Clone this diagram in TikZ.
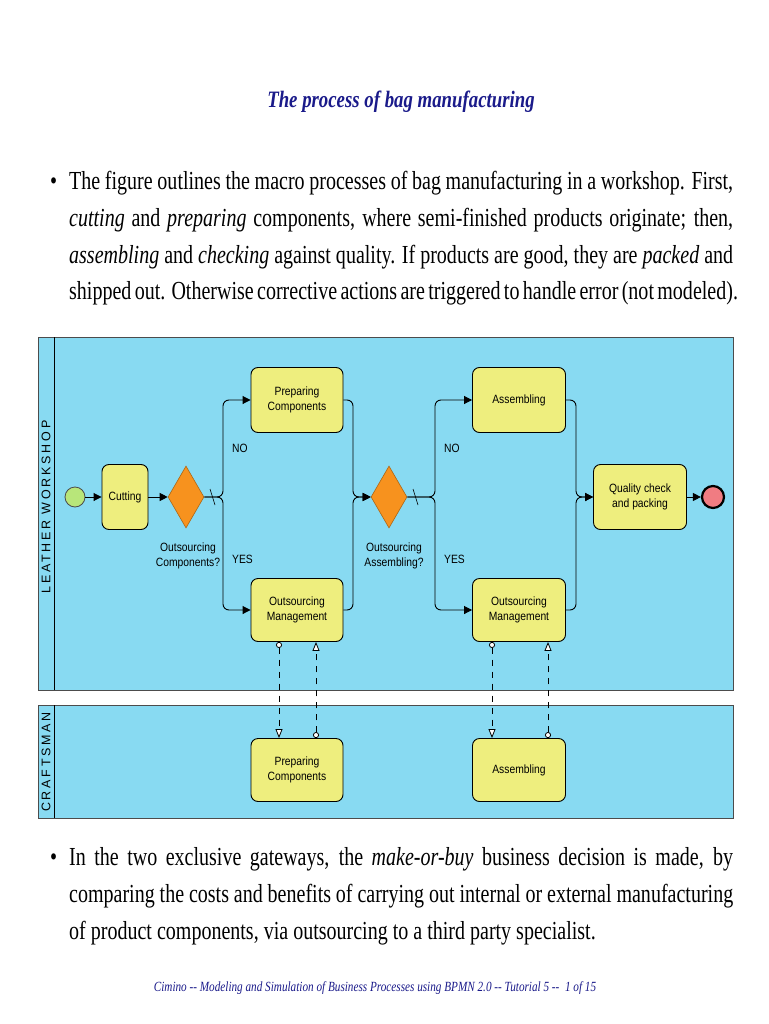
\documentclass[tikz,border=0pt]{standalone}
\usepackage{fontspec}
\setmainfont{Liberation Serif}[FakeStretch=0.77]
\newfontfamily\titlefont{Liberation Serif}[FakeStretch=0.80]
\newfontfamily\dsans{Liberation Sans}[FakeStretch=0.86]
\newfontfamily\lanefont{Liberation Sans}[LetterSpace=22]
\usetikzlibrary{arrows.meta,shapes.geometric}
\definecolor{pool}{HTML}{88DAF2}
\definecolor{taskc}{HTML}{EEEE7E}
\definecolor{gatec}{HTML}{F7921E}
\definecolor{startc}{HTML}{B8E67A}
\definecolor{endc}{HTML}{F07C82}
\definecolor{titleb}{HTML}{1A1A8A}
\tikzset{
  task/.style={draw=black,fill=taskc,rounded corners=7pt,line width=0.9pt,font=\dsans\fontsize{12}{15}\selectfont,align=center,inner sep=0pt},
  gate/.style={draw=gatec!70!black,fill=gatec,diamond,minimum width=36pt,minimum height=62pt,inner sep=0pt,line width=0.6pt},
  flow/.style={line width=0.9pt,rounded corners=6pt,-{Triangle[length=8pt,width=8pt]}},
  msg/.style={line width=0.8pt,dashed,dash pattern=on 6pt off 6pt,{Circle[open,fill=white,length=6pt,width=6pt]}-{Triangle[open,fill=white,length=9pt,width=7pt]}},
  lbl/.style={font=\dsans\fontsize{12}{15}\selectfont,align=center,inner sep=0pt},
  lane/.style={draw=black!70,fill=pool,line width=0.8pt},
  bline/.style={anchor=base west,inner sep=0pt,font=\fontsize{26}{30}\selectfont},
}
\newcommand{\fullline}[1]{\makebox[664pt][s]{#1}}
\begin{document}
\begin{tikzpicture}[x=1pt,y=-1pt]
\useasboundingbox (0,0) rectangle (768,1024);
\fill[white] (0,0) rectangle (768,1024);
% title and text
\node[font=\titlefont\bfseries\itshape\fontsize{23.5}{28}\selectfont,text=titleb] (title) at (401,102) {The process of bag manufacturing};
\node[bline] (b1) at (50,190) {\textbullet};
\node[bline] (t1a) at (69,190) {\fullline{The figure outlines the macro processes of bag manufacturing in a workshop. First,}};
\node[bline] (t1b) at (69,226) {\fullline{\emph{cutting} and \emph{preparing} components, where semi-finished products originate; then,}};
\node[bline] (t1c) at (69,263) {\fullline{\emph{assembling} and \emph{checking} against quality. If products are good, they are \emph{packed} and}};
\node[bline] (t1d) at (69,299) {\fullline{shipped out. Otherwise corrective actions are triggered to handle error (not modeled).}};
\node[bline] (b2) at (50,865) {\textbullet};
\node[bline] (t2a) at (69,865) {\fullline{In the two exclusive gateways, the \emph{make-or-buy} business decision is made, by}};
\node[bline] (t2b) at (69,902) {\fullline{comparing the costs and benefits of carrying out internal or external manufacturing}};
\node[bline] (t2c) at (69,939) {of product components, via outsourcing to a third party specialist.};
\node[font=\titlefont\itshape\fontsize{14}{17}\selectfont,text=titleb] (foot) at (375,988) {Cimino -- Modeling and Simulation of Business Processes using BPMN 2.0 -- Tutorial 5 --\ \ 1 of 15};
% pools
\draw[lane] (38,337) rectangle (733,690);
\draw[line width=0.8pt] (54,337) -- (54,690);
\draw[lane] (38,705) rectangle (733,818);
\draw[line width=0.8pt] (54,705) -- (54,818);
\node[rotate=90,font=\lanefont\fontsize{12.5}{14}\selectfont,inner sep=0pt] (l1) at (46,507) {LEATHER WORKSHOP};
\node[rotate=90,font=\lanefont\fontsize{12.5}{14}\selectfont,inner sep=0pt] (l2) at (46,762) {CRAFTSMAN};
% nodes
\node[circle,draw=black!70,fill=startc,minimum size=20pt,inner sep=0pt,line width=0.8pt] (start) at (75,497) {};
\node[task,minimum width=46pt,minimum height=65pt] (cut) at (125,497) {Cutting};
\node[gate] (g1) at (186,497) {};
\node[task,minimum width=92pt,minimum height=65pt] (prep) at (297,400) {Preparing\\Components};
\node[task,minimum width=92pt,minimum height=63pt] (om1) at (297,610) {Outsourcing\\Management};
\node[gate] (g2) at (389,497) {};
\node[task,minimum width=93pt,minimum height=65pt] (asm) at (519,400) {Assembling};
\node[task,minimum width=93pt,minimum height=63pt] (om2) at (519,610) {Outsourcing\\Management};
\node[task,minimum width=93pt,minimum height=65pt] (qc) at (640,497) {Quality check\\and packing};
\node[circle,draw=black,fill=endc,minimum size=22pt,inner sep=0pt,line width=2.2pt] (end) at (713,497) {};
\node[task,minimum width=92pt,minimum height=63pt] (cprep) at (297,770) {Preparing\\Components};
\node[task,minimum width=93pt,minimum height=63pt] (casm) at (519,770) {Assembling};
% labels
\node[lbl] (q1) at (188,556) {Outsourcing\\Components?};
\node[lbl] (q2) at (394,556) {Outsourcing\\Assembling?};
\node[lbl,anchor=west] (no1) at (232,448) {NO};
\node[lbl,anchor=west] (yes1) at (232,559) {YES};
\node[lbl,anchor=west] (no2) at (444,448) {NO};
\node[lbl,anchor=west] (yes2) at (444,559) {YES};
% flows
\draw[flow] (start) -- (cut);
\draw[flow] (cut) -- (g1);
\draw[flow] (g1.east) -- (223,497) |- (prep.west);
\draw[flow] (g1.east) -- (223,497) |- (om1.west);
\draw[line width=0.6pt] (210,489) -- (215,505);
\draw[flow] (prep.east) -- (353,400) |- (g2.west);
\draw[flow] (om1.east) -- (353,610) |- (g2.west);
\draw[flow] (g2.east) -- (435,497) |- (asm.west);
\draw[flow] (g2.east) -- (435,497) |- (om2.west);
\draw[line width=0.6pt] (413,489) -- (418,505);
\draw[flow] (asm.east) -- (576,400) |- (qc.west);
\draw[flow] (om2.east) -- (576,610) |- (qc.west);
\draw[flow] (qc) -- (end);
% message flows
\draw[msg] (om1.south -| 279,0) -- (cprep.north -| 279,0);
\draw[msg] (cprep.north -| 316,0) -- (om1.south -| 316,0);
\draw[msg] (om2.south -| 492,0) -- (casm.north -| 492,0);
\draw[msg] (casm.north -| 548,0) -- (om2.south -| 548,0);
\end{tikzpicture}
\end{document}
